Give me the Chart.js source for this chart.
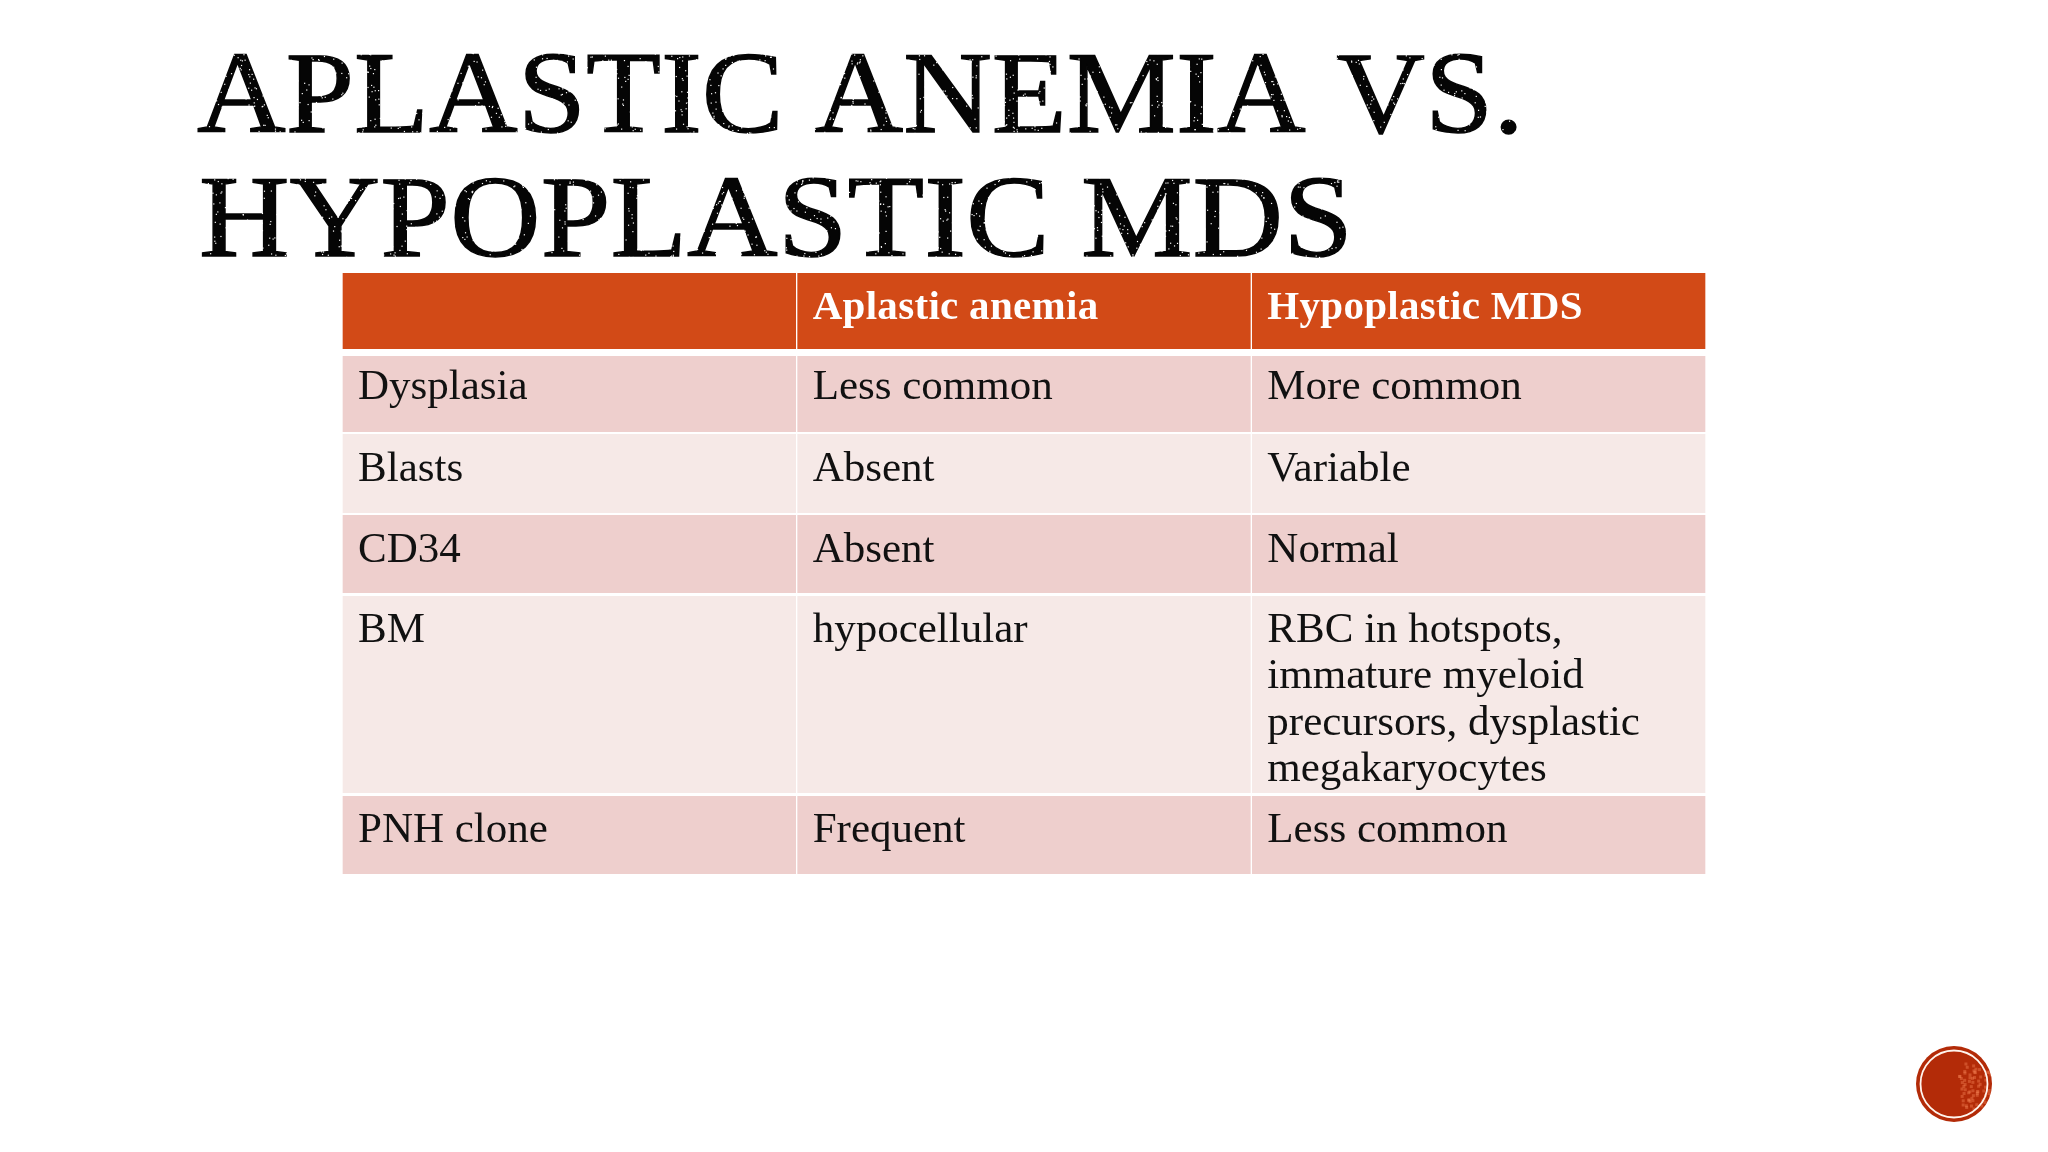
<!DOCTYPE html>
<html>
<head>
<meta charset="utf-8">
<title>Aplastic anemia vs. hypoplastic MDS</title>
<script src="https://cdn.jsdelivr.net/npm/chart.js@4"></script>
<style>
  html, body { margin: 0; padding: 0; background: #fff; }
  canvas { display: block; }
</style>
</head>
<body>
<canvas id="slide" width="2048" height="1152"></canvas>
<script>
// Slide title
const titleLines = ['APLASTIC ANEMIA VS.', 'HYPOPLASTIC MDS'];

// Table content
const columns = ['', 'Aplastic anemia', 'Hypoplastic MDS'];
const rowLabels = ['Dysplasia', 'Blasts', 'CD34', 'BM', 'PNH clone'];
const aplasticValues = ['Less common', 'Absent', 'Absent', 'hypocellular', 'Frequent'];
const mdsValues = [
  ['More common'],
  ['Variable'],
  ['Normal'],
  ['RBC in hotspots,', 'immature myeloid', 'precursors, dysplastic', 'megakaryocytes'],
  ['Less common']
];

// Row spans along the y axis, header first
const rowStarts = [0, 83, 161, 242, 323, 523];
const rowEnds = [76, 159, 240, 320, 520, 601];
const rowColors = ['#d24a17', '#eecfcd', '#f6e9e7', '#eecfcd', '#f6e9e7', '#eecfcd'];

// First text baseline of each row, counted from the top of that row
const baselineOffsets = [46, 43, 47, 47, 46, 46];
const lineHeight = 46.4;
const cellPadding = 16;

const datasets = rowStarts.map((start, i) => ({
  label: i === 0 ? 'Header' : rowLabels[i - 1],
  data: columns.map(() => [start, rowEnds[i]]),
  backgroundColor: rowColors[i],
  borderColor: '#ffffff',
  borderWidth: { left: 1, right: 1, top: 0, bottom: 0 },
  borderSkipped: false,
  grouped: false,
  barPercentage: 1,
  categoryPercentage: 1
}));

// Worn ink look: small dots placed by a fixed hash, same on every run
function hash(n) {
  const v = Math.sin(n * 12.9898) * 43758.5453;
  return v - Math.floor(v);
}

function speckle(ctx, x, y, w, h, count, size, color) {
  ctx.fillStyle = color;
  for (let i = 1; i <= count; i++) {
    ctx.fillRect(x + hash(i) * w, y + hash(i + 0.37) * h, size, size);
  }
}

function drawTitle(ctx) {
  ctx.fillStyle = '#050505';
  ctx.strokeStyle = '#050505';
  ctx.lineWidth = 1.4;
  ctx.textAlign = 'left';
  ctx.textBaseline = 'alphabetic';
  ctx.font = '116px "Liberation Serif"';
  titleLines.forEach((line, i) => {
    // the reference face is wider than it is tall, so stretch to the measured width
    const x = i === 0 ? 197 : 199;
    const y = i === 0 ? 132 : 256;
    const width = i === 0 ? 1327 : 1154;
    ctx.save();
    ctx.translate(x, y);
    ctx.scale(width / ctx.measureText(line).width, 1);
    ctx.fillText(line, 0, 0);
    ctx.strokeText(line, 0, 0);
    ctx.restore();
  });
  speckle(ctx, 190, 44, 1340, 216, 5000, 1.2, '#ffffff');
}

function drawCell(ctx, chart, col, row, lines) {
  const x = chart.scales.x;
  const y = chart.scales.y;
  const left = x.getPixelForValue(col) - x.width / 6 + cellPadding;
  const top = y.getPixelForValue(rowStarts[row]) + baselineOffsets[row];
  lines.forEach((line, i) => ctx.fillText(line, left, top + i * lineHeight));
}

function drawBadge(ctx) {
  ctx.beginPath();
  ctx.arc(1954, 1084, 38, 0, Math.PI * 2);
  ctx.fillStyle = '#b32b08';
  ctx.fill();
  ctx.save();
  ctx.beginPath();
  ctx.arc(1954, 1084, 38, 0, Math.PI * 2);
  ctx.clip();
  speckle(ctx, 1958, 1062, 32, 46, 70, 3, 'rgba(240,125,80,0.45)');
  ctx.restore();
  ctx.beginPath();
  ctx.arc(1954, 1084, 33.5, 0, Math.PI * 2);
  ctx.strokeStyle = '#fff5ee';
  ctx.lineWidth = 1.8;
  ctx.stroke();
}

const slideText = {
  id: 'slideText',
  afterDraw(chart) {
    const ctx = chart.ctx;
    ctx.save();
    drawTitle(ctx);

    ctx.font = 'bold 41px "Liberation Serif"';
    ctx.letterSpacing = '0.3px';
    ctx.fillStyle = '#ffffff';
    columns.forEach((name, col) => drawCell(ctx, chart, col, 0, [name]));

    ctx.font = '43px "Liberation Serif"';
    ctx.letterSpacing = '0px';
    ctx.fillStyle = '#111111';
    rowLabels.forEach((label, i) => {
      drawCell(ctx, chart, 0, i + 1, [label]);
      drawCell(ctx, chart, 1, i + 1, [aplasticValues[i]]);
      drawCell(ctx, chart, 2, i + 1, mdsValues[i]);
    });

    drawBadge(ctx);
    ctx.restore();
  }
};

new Chart(document.getElementById('slide').getContext('2d'), {
  type: 'bar',
  data: { labels: columns, datasets: datasets },
  options: {
    responsive: false,
    animation: false,
    devicePixelRatio: 1,
    layout: { padding: { left: 342, right: 342, top: 273, bottom: 278 } },
    plugins: { legend: { display: false }, title: { display: false }, tooltip: { enabled: false } },
    scales: {
      x: { display: false },
      y: { display: false, reverse: true, min: 0, max: 601 }
    }
  },
  plugins: [slideText]
});
</script>
</body>
</html>
